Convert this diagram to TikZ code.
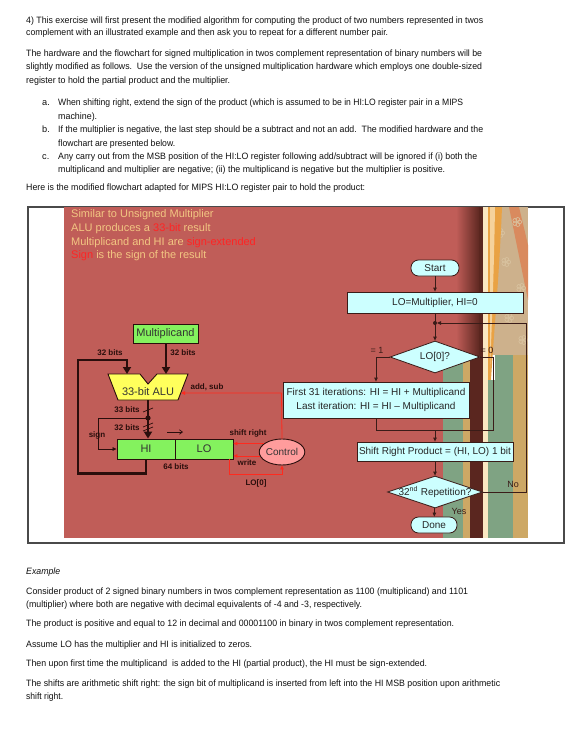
\documentclass[tikz,border=0pt]{standalone}
\usepackage{fontspec}
\setmainfont{Liberation Sans}
\usepackage{graphicx}
\usetikzlibrary{shapes.geometric,arrows.meta,calc}
\definecolor{panelred}{HTML}{C05D58}
\definecolor{paneltxt}{HTML}{F2C682}
\definecolor{hired}{HTML}{FF2424}
\definecolor{flowfill}{HTML}{CCFFFF}
\definecolor{flowline}{HTML}{3A1C18}
\definecolor{hwgreen}{HTML}{84F25E}
\definecolor{hwyellow}{HTML}{FFFF5C}
\definecolor{ctrlpink}{HTML}{FF9C9C}
\definecolor{lbl}{HTML}{2A0E0C}
\definecolor{redline}{HTML}{FF2A1E}
\definecolor{framegray}{HTML}{4A4A4A}
\definecolor{decgreen}{HTML}{7FA383}
\definecolor{decgold}{HTML}{CDA865}
\definecolor{decbeige}{HTML}{CDB18C}
\definecolor{decflower}{HTML}{D9C3A0}
\definecolor{deccream}{HTML}{FAE7C2}
\definecolor{decorange}{HTML}{E9A244}
\definecolor{decrust}{HTML}{D98A5E}
\definecolor{decbrown}{HTML}{5A261F}
\definecolor{bodyblack}{HTML}{111111}
\newlength\tlw
\newcommand\fitw[2]{\settowidth\tlw{#2}\scalebox{\fpeval{(#1)/\tlw}}[1]{#2}}
\newcommand\bodyline[5]{\node[bodytxt] (#1) at (#2,#3) {\fitw{#4-#2}{#5}};}
\begin{document}
\begin{tikzpicture}[x=1pt,y=-1pt,
  bodytxt/.style={anchor=base west,inner sep=0pt,font=\fontsize{9.2}{11}\selectfont,text=bodyblack},
  ptxt/.style={anchor=base west,inner sep=0pt,font=\fontsize{11}{13}\selectfont,text=paneltxt},
  fbox/.style={draw=flowline,fill=flowfill,line width=0.8pt,inner sep=0pt,font=\fontsize{10}{12}\selectfont,text=black!85},
  fterm/.style={fbox,rounded corners=7.5pt},
  fdia/.style={fbox,diamond},
  ftxt/.style={inner sep=0pt,font=\fontsize{10}{12}\selectfont,text=black!85},
  flbl/.style={inner sep=0pt,font=\fontsize{9}{11}\selectfont,text=flowline},
  flow/.style={draw=flowline,line width=0.8pt,-{Triangle[length=4pt,width=3.5pt]}},
  fline/.style={draw=flowline,line width=0.8pt},
  hwbox/.style={draw=lbl,fill=hwgreen,line width=0.9pt,inner sep=0pt,font=\fontsize{11}{13}\selectfont,text=black!80},
  hwlbl/.style={inner sep=0pt,font=\fontsize{8}{9}\selectfont\bfseries,text=lbl},
  bus/.style={draw=lbl,line width=2.6pt},
  busarr/.style={bus,-{Triangle[length=7pt,width=8pt]}},
  thinl/.style={draw=lbl,line width=0.7pt},
  thinarr/.style={thinl,-{Triangle[length=4pt,width=3.5pt]}},
  redarr/.style={draw=redline,line width=0.8pt,-{Triangle[length=4pt,width=3.5pt]}},
]
\useasboundingbox (0,0) rectangle (579,752);
\fill[white] (0,0) rectangle (579,752);

% ---------- top text ----------
\bodyline{t1}{26}{24}{483}{4) This exercise will first present the modified algorithm for computing the product of two numbers represented in twos}
\bodyline{t2}{26}{36}{388}{complement with an illustrated example and then ask you to repeat for a different number pair.}
\bodyline{t3}{26}{57}{482}{The hardware and the flowchart for signed multiplication in twos complement representation of binary numbers will be}
\bodyline{t4}{26}{70}{482}{slightly modified as follows.\ \ Use the version of the unsigned multiplication hardware which employs one double-sized}
\bodyline{t5}{26}{83}{230}{register to hold the partial product and the multiplier.}
\node[bodytxt] (ta) at (42,105) {a.};
\bodyline{ta1}{58}{105}{463}{When shifting right, extend the sign of the product (which is assumed to be in HI:LO register pair in a MIPS}
\bodyline{ta2}{58}{119}{97}{machine).}
\node[bodytxt] (tb) at (42,132) {b.};
\bodyline{tb1}{58}{132}{483}{If the multiplier is negative, the last step should be a subtract and not an add.\ \ The modified hardware and the}
\bodyline{tb2}{58}{146}{175}{flowchart are presented below.}
\node[bodytxt] (tc) at (42,159) {c.};
\bodyline{tc1}{58}{159}{477}{Any carry out from the MSB position of the HI:LO register following add/subtract will be ignored if (i) both the}
\bodyline{tc2}{58}{172}{445}{multiplicand and multiplier are negative; (ii) the multiplicand is negative but the multiplier is positive.}
\bodyline{t6}{26}{190}{365}{Here is the modified flowchart adapted for MIPS HI:LO register pair to hold the product:}

% ---------- frame and background ----------
\draw[framegray,line width=1.3pt] (28,207) rectangle (564,543);
\fill[panelred] (64,207) rectangle (483,538);
\fill[decgreen] (443,355) rectangle (463,538);
\fill[decgold] (463,355) rectangle (470,538);
\shade[left color=panelred,right color=decbrown] (456,207) rectangle (480,355);
\fill[decbrown] (479,207) rectangle (483,355);
\fill[decbrown] (470,355) rectangle (483,538);
\fill[decbeige] (483,207) rectangle (528,355);
\fill[decrust] (509,207) -- (519,207) -- (528,245) -- (528,300) -- cycle;
\foreach \fx/\fy in {517/222,506/262,521/288,509/318,523/340,500/233}{
  \foreach \a in {0,72,...,288}{\draw[decflower,line width=0.6pt] (\fx,\fy) ++(\a:2.6) circle (2);}
}
\fill[decorange] (487,207) -- (502,207) .. controls (499,280) and (494,330) .. (491,380) -- (488,380) -- cycle;
\fill[deccream!70!decorange] (490,207) -- (495,207) .. controls (494,270) and (492,320) .. (490,370) -- cycle;
\fill[decgreen] (488,380) rectangle (513,538);
\fill[decgreen] (495,355) rectangle (513,380);
\fill[decgold] (513,355) rectangle (528,538);
\fill[deccream] (483,207) rectangle (488,538);

% ---------- panel text ----------
\node[ptxt] (p1) at (71,217) {Similar to Unsigned Multiplier};
\node[ptxt] (p2) at (71,231) {ALU produces a \textcolor{hired}{33-bit} result};
\node[ptxt] (p3) at (71,245) {Multiplicand and HI are \textcolor{hired}{sign-extended}};
\node[ptxt] (p4) at (71,258) {\textcolor{hired}{Sign} is the sign of the result};

% ---------- flowchart ----------
\node[fterm,minimum width=48pt,minimum height=16pt] (start) at (435,268) {Start};
\node[fbox,minimum width=176pt,minimum height=21pt] (init) at (435,302.5) {LO=Multiplier, HI=0};
\node[fdia,minimum width=90pt,minimum height=32pt] (dec) at (435,357) {};
\node[ftxt] (dectxt) at (435,357) {LO[0]?};
\node[fbox,minimum width=186pt,minimum height=36pt,align=center] (first) at (376,400)
  {First 31 iterations: HI = HI + Multiplicand\\[2pt]Last iteration: HI = HI – Multiplicand};
\node[fbox,minimum width=156pt,minimum height=19pt] (shift) at (435,451.5) {Shift Right Product = (HI, LO) 1 bit};
\node[fdia,minimum width=95pt,minimum height=32pt] (rep) at (435,492) {};
\node[ftxt] (reptxt) at (435,492) {32\textsuperscript{nd} Repetition?};
\node[fterm,minimum width=46pt,minimum height=16pt] (done) at (434,525) {Done};

\coordinate (j1) at (435,323);
\coordinate (j2) at (435,430);
\coordinate (zr) at (493,357);
\coordinate (noc) at (526,492);

\draw[flow] (start) -- (init);
\draw[fline] (init) -- (j1);
\draw[flow] (j1) -- (dec);
\fill[flowline] (j1) circle (2pt);
\draw[flow] (dec.west) -| (first.north);
\draw[fline] (dec.east) -- (zr) |- (first.south |- j2);
\draw[fline] (first.south) -- (first.south |- j2);
\draw[flow] (j2) -- (shift);
\draw[flow] (shift) -- (rep);
\draw[flow] (rep) -- (done);
\draw[flow] (rep.east) -- (noc) |- ([xshift=2pt]j1);

\node[flbl] (eq1) at (377,350) {= 1};
\node[flbl] (eq0) at (487,350) {= 0};
\node[flbl] (lno) at (513,484) {No};
\node[flbl] (lyes) at (459,511) {Yes};

% ---------- hardware ----------
\node[hwbox,minimum width=65pt,minimum height=19pt] (mc) at (165.5,333.5) {Multiplicand};
\filldraw[fill=hwyellow,draw=lbl,line width=0.9pt] (108,374) -- (140,374) -- (148,384) -- (157,374) -- (188,374) -- (178,400) -- (118,400) -- cycle;
\node[inner sep=0pt,font=\fontsize{11}{13}\selectfont,text=black!80] (alu) at (148,392) {33-bit ALU};
\node[hwbox,minimum width=58pt,minimum height=20pt] (hi) at (146,449) {HI};
\node[hwbox,minimum width=58pt,minimum height=20pt] (lo) at (204,449) {LO};
\node[draw=lbl,fill=ctrlpink,ellipse,minimum width=44pt,minimum height=26pt,inner sep=0pt,line width=0.9pt,font=\fontsize{10}{12}\selectfont,text=black!80] (ctrl) at (282,452) {Control};

\coordinate (alutl) at (127,374);
\coordinate (alutr) at (166,374);
\coordinate (aluout) at (148,400);
\coordinate (alurt) at (181,393);
\coordinate (dot) at (148,418);
\coordinate (redc) at (281.5,393);

\draw[busarr] (mc.south -| alutr) -- (alutr);
\draw[busarr] (hi.south) -- ++(0,14) -| (78,360) -| (alutl);
\draw[busarr] (aluout) -- (aluout |- hi.north);
\draw[thinl] (143,412) -- (153,408);
\draw[thinl] (143,427) -- (153,423);
\draw[thinl] (143,431) -- (153,427);
\fill[lbl] (dot) circle (2.6pt);
\draw[thinarr] (dot) -- (98,418) |- (hi.west);

\draw[redarr] (ctrl.north) -- (redc) -- (alurt);
\draw[redarr] (ctrl.155) -- (ctrl.155 -| lo.east);
\draw[redarr] (ctrl.190) -- (ctrl.190 -| lo.east);
\draw[redarr] ([xshift=-4pt]lo.south east) -- ++(0,15) -| (ctrl.south);
\coordinate (sra) at (167,432);
\coordinate (srb) at (183,432);
\draw[thinl,-{Straight Barb[length=3pt,width=4.5pt]}] (sra) -- (srb);

\node[hwlbl] (l32a) at (110,353) {32 bits};
\node[hwlbl] (l32b) at (183,353) {32 bits};
\node[hwlbl] (laddsub) at (207,387) {add, sub};
\node[hwlbl] (l33) at (127,410) {33 bits};
\node[hwlbl] (l32c) at (127,428) {32 bits};
\node[hwlbl] (lsign) at (97,435) {sign};
\node[hwlbl] (lshift) at (248,433) {shift right};
\node[hwlbl] (lwrite) at (247,463) {write};
\node[hwlbl] (l64) at (176,467) {64 bits};
\node[hwlbl] (llo0) at (256,483) {LO[0]};

% ---------- bottom text ----------
\bodyline{e0}{26}{574}{60}{\itshape Example}
\bodyline{e1}{26}{594}{468}{Consider product of 2 signed binary numbers in twos complement representation as 1100 (multiplicand) and 1101}
\bodyline{e2}{26}{607}{362}{(multiplier) where both are negative with decimal equivalents of -4 and -3, respectively.}
\bodyline{e3}{26}{626}{454}{The product is positive and equal to 12 in decimal and 00001100 in binary in twos complement representation.}
\bodyline{e4}{26}{647}{252}{Assume LO has the multiplier and HI is initialized to zeros.}
\bodyline{e5}{26}{666}{427}{Then upon first time the multiplicand\ \ is added to the HI (partial product), the HI must be sign-extended.}
\bodyline{e6}{26}{686}{500}{The shifts are arithmetic shift right: the sign bit of multiplicand is inserted from left into the HI MSB position upon arithmetic}
\bodyline{e7}{26}{699}{63}{shift right.}
\end{tikzpicture}
\end{document}
